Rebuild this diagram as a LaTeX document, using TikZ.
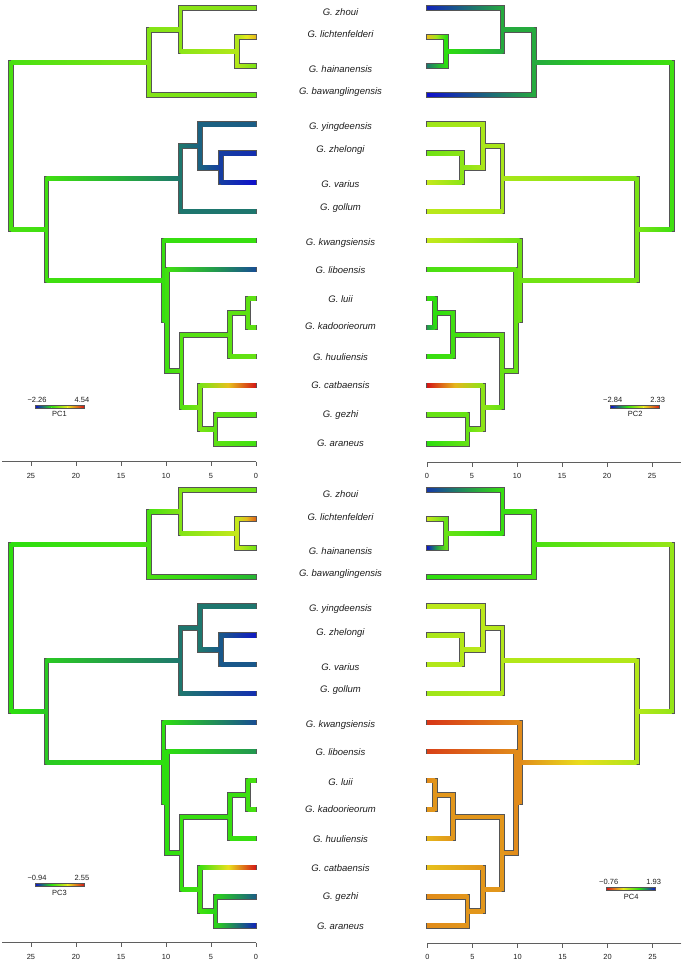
\documentclass[tikz,border=0pt]{standalone}
\usepackage{fontspec}
\setmainfont{Liberation Sans}
\definecolor{pB}{RGB}{15,15,205}
\definecolor{pG}{RGB}{45,222,15}
\definecolor{pY}{RGB}{235,235,30}
\definecolor{pR}{RGB}{212,22,22}
\definecolor{outl}{RGB}{85,85,85}
\definecolor{txt}{RGB}{30,30,30}
\definecolor{axc}{RGB}{95,95,95}
\newif\ifleftp
\def\hw{1.8}
\def\ow{2.8}
\newcommand\mkc[2]{%
  \pgfmathsetmacro\vv{max(0,min(5.999,#2))}%
  \pgfmathtruncatemacro\seg{floor(\vv/2)}%
  \pgfmathsetmacro\pp{(\vv-2*\seg)*50}%
  \ifcase\seg\relax\colorlet{#1}{pG!\pp!pB}\or\colorlet{#1}{pY!\pp!pG}\else\colorlet{#1}{pR!\pp!pY}\fi}
\newcommand\Hout[5]{%
  \pgfmathsetmacro\xa{\ox+(\sx)*#1}%
  \pgfmathsetmacro\xb{\ox+(\sx)*(#2-0.09)}%
  \fill[outl] (\xa,#3-\ow) rectangle (\xb,#3+\ow);}
\newcommand\Vout[4]{%
  \pgfmathsetmacro\xa{\ox+(\sx)*#1}%
  \fill[outl] (\xa-\ow,#2-\ow) rectangle (\xa+\ow,#3+\ow);}
\newcommand\Hcol[5]{%
  \pgfmathsetmacro\xa{\ox+(\sx)*#1}%
  \pgfmathsetmacro\xb{\ox+(\sx)*#2}%
  \mkc{ep}{#4}\mkc{ec}{#5}\mkc{em}{(#4+#5)/2}%
  \ifleftp
    \shade[left color=ep,right color=ec,middle color=em] (\xa,#3-\hw) rectangle (\xb,#3+\hw);
  \else
    \shade[left color=ec,right color=ep,middle color=em] (\xb,#3-\hw) rectangle (\xa,#3+\hw);
  \fi}
\newcommand\Vcol[4]{%
  \pgfmathsetmacro\xa{\ox+(\sx)*#1}%
  \mkc{ep}{#4}%
  \fill[ep] (\xa-\hw,#2-\hw) rectangle (\xa+\hw,#3+\hw);}
\newcommand\setA[8]{\def\ndR{#1}\def\ndA{#2}\def\ndAa{#3}\def\ndAb{#4}\def\tpZh{#5}\def\tpLi{#6}\def\tpHa{#7}\def\tpBa{#8}}
\newcommand\setB[8]{\def\ndBC{#1}\def\ndB{#2}\def\ndBa{#3}\def\ndBb{#4}\def\tpYi{#5}\def\tpZe{#6}\def\tpVa{#7}\def\tpGo{#8}}
\newcommand\setC[9]{\def\ndC{#1}\def\tpKw{#2}\def\ndD{#3}\def\tpLb{#4}\def\ndE{#5}\def\ndF{#6}\def\ndFa{#7}\def\tpLu{#8}\def\tpKa{#9}}
\newcommand\setD[6]{\def\tpHu{#1}\def\ndG{#2}\def\tpCa{#3}\def\ndGa{#4}\def\tpGe{#5}\def\tpAr{#6}}
\newcommand\treebody{%
 \brV{27.2}{62.47}{229.51}{\ndR}%
 \brH{27.2}{11.9}{62.47}{\ndR}{\ndA}%
 \brH{27.2}{23.3}{229.51}{\ndR}{\ndBC}%
 \brV{11.9}{29.79}{95.15}{\ndA}%
 \brH{11.9}{8.4}{29.79}{\ndA}{\ndAa}%
 \brH{11.9}{0}{95.15}{\ndA}{\tpBa}%
 \brV{8.4}{8}{51.575}{\ndAa}%
 \brH{8.4}{0}{8}{\ndAa}{\tpZh}%
 \brH{8.4}{2.1}{51.575}{\ndAa}{\ndAb}%
 \brV{2.1}{37.05}{66.1}{\ndAb}%
 \brH{2.1}{0}{37.05}{\ndAb}{\tpLi}%
 \brH{2.1}{0}{66.1}{\ndAb}{\tpHa}%
 \brV{23.3}{178.67}{280.345}{\ndBC}%
 \brH{23.3}{8.4}{178.67}{\ndBC}{\ndB}%
 \brH{23.3}{10.3}{280.345}{\ndBC}{\ndC}%
 \brV{8.4}{145.99}{211.35}{\ndB}%
 \brH{8.4}{6.2}{145.99}{\ndB}{\ndBa}%
 \brH{8.4}{0}{211.35}{\ndB}{\tpGo}%
 \brV{6.2}{124.2}{167.775}{\ndBa}%
 \brH{6.2}{0}{124.2}{\ndBa}{\tpYi}%
 \brH{6.2}{3.9}{167.775}{\ndBa}{\ndBb}%
 \brV{3.9}{153.25}{182.3}{\ndBb}%
 \brH{3.9}{0}{153.25}{\ndBb}{\tpZe}%
 \brH{3.9}{0}{182.3}{\ndBb}{\tpVa}%
 \brV{10.3}{240.4}{320.29}{\ndC}%
 \brH{10.3}{0}{240.4}{\ndC}{\tpKw}%
 \brH{10.3}{9.9}{320.29}{\ndC}{\ndD}%
 \brV{9.9}{269.45}{371.125}{\ndD}%
 \brH{9.9}{0}{269.45}{\ndD}{\tpLb}%
 \brH{9.9}{8.3}{371.125}{\ndD}{\ndE}%
 \brV{8.3}{334.81}{407.44}{\ndE}%
 \brH{8.3}{2.9}{334.81}{\ndE}{\ndF}%
 \brH{8.3}{6.2}{407.44}{\ndE}{\ndG}%
 \brV{2.9}{313.025}{356.6}{\ndF}%
 \brH{2.9}{0.9}{313.025}{\ndF}{\ndFa}%
 \brH{2.9}{0}{356.6}{\ndF}{\tpHu}%
 \brV{0.9}{298.5}{327.55}{\ndFa}%
 \brH{0.9}{0}{298.5}{\ndFa}{\tpLu}%
 \brH{0.9}{0}{327.55}{\ndFa}{\tpKa}%
 \brV{6.2}{385.65}{429.225}{\ndG}%
 \brH{6.2}{0}{385.65}{\ndG}{\tpCa}%
 \brH{6.2}{4.5}{429.225}{\ndG}{\ndGa}%
 \brV{4.5}{414.7}{443.75}{\ndGa}%
 \brH{4.5}{0}{414.7}{\ndGa}{\tpGe}%
 \brH{4.5}{0}{443.75}{\ndGa}{\tpAr}%
}
\newcommand\drawpanel{\let\brH\Hout\let\brV\Vout\treebody\let\brH\Hcol\let\brV\Vcol\treebody}
\newcommand\axisdraw[4]{% ox, sx, y, name
  \draw[axc,line width=0.7pt] ({#1+(#2)*28.2},#3) -- (#1,#3);
  \foreach \t in {0,5,...,25}{
    \draw[axc,line width=0.7pt] ({#1+(#2)*\t},#3) -- ++(0,4.5);
    \node[ticklab] (#4\t) at ({#1+(#2)*\t},#3+14.3) {\t};}}
\newcommand\legendbar[9]{%
  \shade[left color=#6,right color=#7] (#1,#2-1.2) rectangle (#1+16.4,#2+1.2);
  \shade[left color=#7,right color=#8] (#1+16.3,#2-1.2) rectangle (#1+32.7,#2+1.2);
  \shade[left color=#8,right color=#9] (#1+32.6,#2-1.2) rectangle (#1+49,#2+1.2);
  \draw[outl,line width=0.5pt] (#1,#2-1.5) rectangle (#1+49,#2+1.5);
  \node[leglab] (#5lo) at (#1+2,#2-7) {#3};
  \node[leglab] (#5hi) at (#1+47,#2-7) {#4};
  \node[leglab] (#5t) at (#1+24.5,#2+7.5) {#5};}
\begin{document}
\begin{tikzpicture}[x=1pt,y=-1pt,
  sp/.style={font=\fontsize{9.5}{11}\selectfont\itshape,text=txt,inner sep=0pt},
  ticklab/.style={font=\fontsize{7.4}{8}\selectfont,text=txt,inner sep=0pt},
  leglab/.style={font=\fontsize{7.5}{8}\selectfont,text=txt,inner sep=0pt}]
\fill[white] (0,0) rectangle (685,961);
\useasboundingbox (0,0) rectangle (685,961);
% ---------- PC1 (top left)
\begin{scope}
\def\ox{256}\def\sx{-9}\leftptrue
\setA{2.3}{2.9}{3.0}{3.4}{2.9}{4.5}{2.8}{2.6}
\setB{2.2}{1.0}{0.8}{0.45}{0.75}{0.3}{0.0}{1.0}
\setC{2.1}{2.1}{2.2}{0.6}{2.4}{2.5}{2.5}{2.5}{2.5}
\setD{2.6}{2.8}{6.0}{2.5}{2.4}{2.2}
\drawpanel
\end{scope}
% ---------- PC2 (top right)
\begin{scope}
\def\ox{427}\def\sx{9}\leftpfalse
\setA{2.2}{1.5}{1.5}{2.0}{0.2}{4.4}{1.0}{0.0}
\setB{2.8}{3.3}{3.3}{3.0}{3.2}{2.7}{3.6}{3.5}
\setC{2.7}{3.6}{2.6}{2.3}{2.6}{2.2}{2.0}{2.1}{1.3}
\setD{2.1}{3.0}{6.0}{2.6}{2.6}{2.0}
\drawpanel
\end{scope}
% ---------- PC3 (bottom left)
\begin{scope}[yshift=-482pt]
\def\ox{256}\def\sx{-9}\leftptrue
\setA{2.0}{2.3}{2.9}{3.6}{2.7}{5.3}{2.7}{1.6}
\setB{1.8}{1.0}{1.0}{0.7}{1.0}{0.1}{0.7}{0.3}
\setC{2.0}{0.6}{2.0}{1.3}{2.1}{2.1}{2.2}{2.3}{2.3}
\setD{2.1}{2.2}{6.0}{1.9}{0.75}{0.2}
\drawpanel
\end{scope}
% ---------- PC4 (bottom right)
\begin{scope}[yshift=-482pt]
\def\ox{427}\def\sx{9}\leftpfalse
\setA{3.1}{2.3}{2.1}{2.6}{0.4}{3.6}{0.1}{2.0}
\setB{3.4}{3.4}{3.5}{3.4}{3.5}{3.3}{3.4}{3.2}
\setC{4.9}{5.7}{4.9}{5.6}{4.8}{4.8}{4.8}{4.9}{4.8}
\setD{4.5}{4.8}{4.4}{4.8}{4.9}{4.9}
\drawpanel
\end{scope}
% ---------- axes
\axisdraw{256}{-9}{461.7}{ta}
\axisdraw{427}{9}{462}{tb}
\axisdraw{256}{-9}{942.7}{ba}
\axisdraw{427.5}{9}{943}{bb}
% ---------- legends
\legendbar{35}{406.7}{−2.26}{4.54}{PC1}{pB}{pG}{pY}{pR}
\legendbar{610.7}{406.7}{−2.84}{2.33}{PC2}{pB}{pG}{pY}{pR}
\legendbar{35}{885}{−0.94}{2.55}{PC3}{pB}{pG}{pY}{pR}
\legendbar{606.7}{889}{−0.76}{1.93}{PC4}{pR}{pY}{pG}{pB}
% ---------- species labels
\foreach \n/\yy [count=\i] in {G. zhoui/11.7, G. lichtenfelderi/34.3, G. hainanensis/69, G. bawanglingensis/92,
  G. yingdeensis/126.7, G. zhelongi/150.3, G. varius/184.3, G. gollum/208,
  G. kwangsiensis/243, G. liboensis/270, G. luii/299.5, G. kadoorieorum/326.5,
  G. huuliensis/357, G. catbaensis/385.5, G. gezhi/415, G. araneus/443.5}{
  \node[sp] (lt\i) at (340.5,\yy) {\n};
  \node[sp] (lb\i) at (340.5,\yy+482.5) {\n};
}
\end{tikzpicture}
\end{document}
